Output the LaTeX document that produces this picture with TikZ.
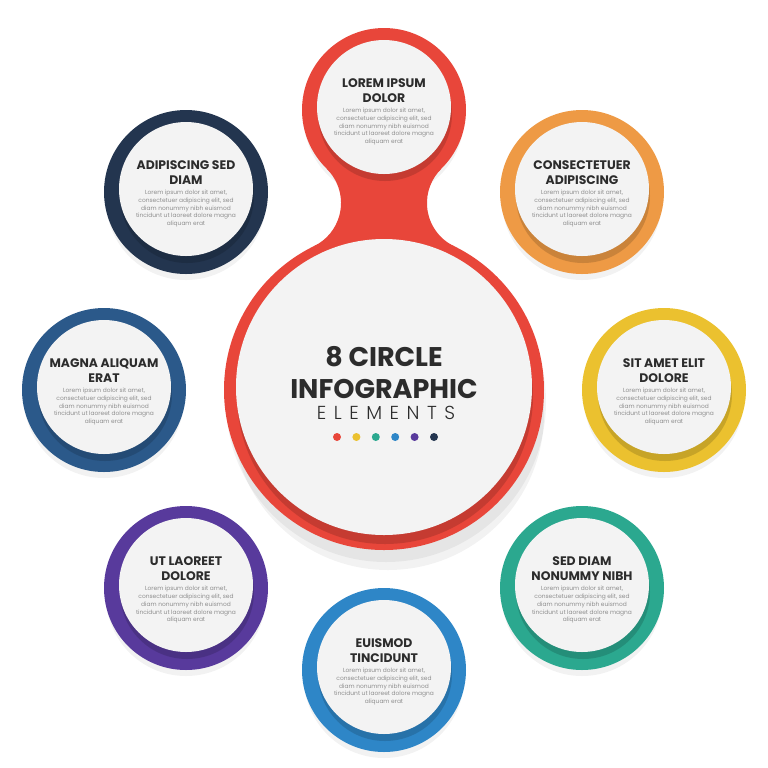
\documentclass[tikz,border=0pt]{standalone}
\usepackage{fontspec}
\setmainfont{Poppins}
\newfontfamily\thinfont[LetterSpace=40]{Poppins Light}
\usetikzlibrary{positioning,calc}

\definecolor{cRed}{HTML}{E8463A}
\definecolor{cOrange}{HTML}{EE9A45}
\definecolor{cYellow}{HTML}{EBC12F}
\definecolor{cTeal}{HTML}{2BA88F}
\definecolor{cBlue}{HTML}{2E86C7}
\definecolor{cPurple}{HTML}{583A9C}
\definecolor{cSteel}{HTML}{2B598A}
\definecolor{cNavy}{HTML}{23354F}
\definecolor{cInk}{HTML}{2C2C2C}
\definecolor{cGrey}{HTML}{8E8E8E}
\definecolor{cDisc}{HTML}{F3F3F3}

\newcommand{\loremtxt}{Lorem ipsum dolor sit amet,\\consectetuer adipiscing elit, sed\\diam nonummy nibh euismod\\tincidunt ut laoreet dolore magna\\aliquam erat}

\begin{document}
\begin{tikzpicture}[
		x=0.5pt, y=-0.5pt,
		ring/.style={circle, inner sep=0pt, minimum size=82pt},
		disc/.style={circle, fill=cDisc, inner sep=0pt, minimum size=67pt},
		head/.style={font=\fontsize{6.2}{7.4}\selectfont\bfseries, text=cInk, align=center, inner sep=0pt},
		body/.style={font=\fontsize{2.95}{3.85}\selectfont, text=cGrey, align=center, inner sep=0pt},
		bigtitle/.style={font=\fontsize{13.5}{15}\selectfont\bfseries, text=cInk, inner sep=0pt},
		dot/.style={circle, inner sep=0pt, minimum size=4pt},
		drop/.style={fill=black, opacity=0.15},
		haze/.style={fill=black, opacity=0.05}
	]
		\fill[white] (0,0) rectangle (768,768);
		\useasboundingbox (0,0) rectangle (768,768);
		% centres of the eight satellites and of the hub
		\coordinate (c1) at (384,110);
		\coordinate (c2) at (582,192);
		\coordinate (c3) at (664,390);
		\coordinate (c4) at (582,588);
		\coordinate (c5) at (384,670);
		\coordinate (c6) at (186,588);
		\coordinate (c7) at (104,390);
		\coordinate (c8) at (186,192);
		\coordinate (c0) at (384,390);
		% soft shadows on the page
		\foreach \c in {c1,c2,c3,c4,c5,c6,c7,c8}
			\fill[haze] ($(\c)+(0,8)$) circle (80);
		\fill[haze] ($(c0)+(2,12)$) circle (160);
		\fill[haze] ($(c0)+(4,24)$) circle (156);
		% red neck between top circle and hub
		\fill[cRed] (326.6,168.7) arc[start angle=-45.6, end angle=64.1, radius=48]
			-- (454,246.2) arc[start angle=115.9, end angle=225.6, radius=48] -- cycle;
		\node[circle, inner sep=0pt, minimum size=160pt, fill=cRed] (hubring) at (c0) {};
		\node[ring, fill=cRed] (o1) at (c1) {};
		\node[ring, fill=cOrange] (o2) at (c2) {};
		\node[ring, fill=cYellow] (o3) at (c3) {};
		\node[ring, fill=cTeal] (o4) at (c4) {};
		\node[ring, fill=cBlue] (o5) at (c5) {};
		\node[ring, fill=cPurple] (o6) at (c6) {};
		\node[ring, fill=cSteel] (o7) at (c7) {};
		\node[ring, fill=cNavy] (o8) at (c8) {};
		% shadows of the white discs
		\foreach \c in {c1,c2,c3,c4,c5,c6,c7,c8}
			\fill[drop] ($(\c)+(1,4)$) circle (67);
		\fill[drop] ($(c0)+(1,6)$) circle (148);
		% white discs
		\node[circle, inner sep=0pt, minimum size=148pt, fill=cDisc] (hub) at ($(c0)+(0,-3)$) {};
		\node[disc] (d1) at ($(c1)+(0,-3)$) {};
		\node[disc] (d2) at ($(c2)+(0,-3)$) {};
		\node[disc] (d3) at ($(c3)+(0,-3)$) {};
		\node[disc] (d4) at ($(c4)+(0,-3)$) {};
		\node[disc] (d5) at ($(c5)+(0,-3)$) {};
		\node[disc] (d6) at ($(c6)+(0,-3)$) {};
		\node[disc] (d7) at ($(c7)+(0,-3)$) {};
		\node[disc] (d8) at ($(c8)+(0,-3)$) {};
		% texts
		\node[head, above=2pt of d1.center] (h1) {LOREM IPSUM\\DOLOR};
		\node[body, below=2.5pt of h1] (b1) {\loremtxt};
		\node[head, above=2pt of d2.center] (h2) {CONSECTETUER\\ADIPISCING};
		\node[body, below=2.5pt of h2] (b2) {\loremtxt};
		\node[head, above=2pt of d3.center] (h3) {SIT AMET ELIT\\DOLORE};
		\node[body, below=2.5pt of h3] (b3) {\loremtxt};
		\node[head, above=2pt of d4.center] (h4) {SED DIAM\\NONUMMY NIBH};
		\node[body, below=2.5pt of h4] (b4) {\loremtxt};
		\node[head, above=2pt of d5.center] (h5) {EUISMOD\\TINCIDUNT};
		\node[body, below=2.5pt of h5] (b5) {\loremtxt};
		\node[head, above=2pt of d6.center] (h6) {UT LAOREET\\DOLORE};
		\node[body, below=2.5pt of h6] (b6) {\loremtxt};
		\node[head, above=2pt of d7.center] (h7) {MAGNA ALIQUAM\\ERAT};
		\node[body, below=2.5pt of h7] (b7) {\loremtxt};
		\node[head, above=2pt of d8.center] (h8) {ADIPISCING SED\\DIAM};
		\node[body, below=2.5pt of h8] (b8) {\loremtxt};
		% hub title
		\node[bigtitle] (ttl2) at (384,389) {INFOGRAPHIC};
		\node[bigtitle] (ttl1) at (384,357) {8 CIRCLE};
		\node[font=\fontsize{9.4}{10}\thinfont, text=cInk, inner sep=0pt] (ttl3) at (386,413) {ELEMENTS};
		\node[dot, fill=cRed] (p1) at (337,437) {};
		\node[dot, fill=cYellow, right=5.3pt of p1] (p2) {};
		\node[dot, fill=cTeal, right=5.3pt of p2] (p3) {};
		\node[dot, fill=cBlue, right=5.3pt of p3] (p4) {};
		\node[dot, fill=cPurple, right=5.3pt of p4] (p5) {};
		\node[dot, fill=cNavy, right=5.3pt of p5] (p6) {};
	\end{tikzpicture}
\end{document}
